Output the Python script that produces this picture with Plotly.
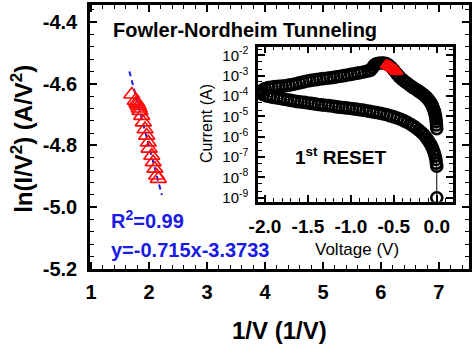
import math
import plotly.graph_objects as go

# ---- Fowler-Nordheim plot: 1/V (1/V) vs ln(I/V^2) ----
fn_inv_v = [1.70, 1.76, 1.787, 1.80, 1.815, 1.83, 1.843, 1.872, 1.90, 1.93,
            1.958, 1.986, 2.00, 2.045, 2.07, 2.10, 2.13, 2.16]
fn_ln = [-4.635, -4.655, -4.661, -4.666, -4.672, -4.680, -4.688, -4.704, -4.725, -4.747,
         -4.768, -4.790, -4.810, -4.833, -4.854, -4.875, -4.897, -4.908]

# linear fit printed on the chart
fit_slope = -0.715
fit_intercept = -3.3733
fit_r2 = 0.99
fit_x_span = [1.66, 2.22]

# ---- inset: 1st RESET I-V sweep (log10 of current in A) ----
sweep_out_v = [0.0, -0.003, -0.006, -0.010, -0.015, -0.021, -0.028, -0.036, -0.045, -0.055,
               -0.066, -0.078, -0.092, -0.107, -0.123, -0.14, -0.16, -0.18, -0.20, -0.22,
               -0.25, -0.28, -0.31, -0.34, -0.37, -0.40, -0.43, -0.45, -0.47, -0.50,
               -0.53, -0.56, -0.59, -0.62, -0.65, -0.68, -0.71, -0.73, -0.745, -0.77,
               -0.80, -0.84, -0.88, -0.92, -0.96, -1.00, -1.04, -1.08, -1.12, -1.16,
               -1.20, -1.24, -1.28, -1.32, -1.36, -1.40, -1.44, -1.48, -1.52, -1.56,
               -1.60, -1.64, -1.68, -1.72, -1.76, -1.80, -1.84, -1.88, -1.92, -1.96,
               -2.00, -2.03, -2.05]
sweep_out_log_i = [-5.60, -5.42, -5.26, -5.12, -4.98, -4.86, -4.75, -4.64, -4.54, -4.45,
                   -4.36, -4.28, -4.20, -4.12, -4.05, -3.98, -3.91, -3.85, -3.79, -3.73,
                   -3.65, -3.57, -3.48, -3.38, -3.29, -3.19, -3.08, -2.98, -2.88, -2.72,
                   -2.58, -2.47, -2.40, -2.37, -2.37, -2.38, -2.42, -2.48, -2.60, -2.72,
                   -2.76, -2.80, -2.84, -2.87, -2.90, -2.93, -2.96, -2.99, -3.02, -3.05,
                   -3.08, -3.10, -3.12, -3.14, -3.16, -3.19, -3.21, -3.24, -3.27, -3.31,
                   -3.35, -3.39, -3.43, -3.46, -3.49, -3.51, -3.52, -3.53, -3.55, -3.58,
                   -3.63, -3.70, -3.78]
sweep_back_v = [-2.05, -2.02, -1.98, -1.94, -1.90, -1.86, -1.82, -1.78, -1.74, -1.70,
                -1.66, -1.62, -1.58, -1.54, -1.50, -1.46, -1.42, -1.38, -1.34, -1.30,
                -1.26, -1.22, -1.18, -1.14, -1.10, -1.06, -1.02, -0.98, -0.94, -0.90,
                -0.86, -0.82, -0.78, -0.74, -0.70, -0.66, -0.62, -0.58, -0.54, -0.50,
                -0.46, -0.42, -0.38, -0.34, -0.30, -0.27, -0.24, -0.21, -0.18, -0.155,
                -0.13, -0.11, -0.09, -0.07, -0.055, -0.04, -0.028, -0.018, -0.010, -0.005,
                0.0, 0.0]
sweep_back_log_i = [-3.85, -3.93, -3.99, -4.03, -4.06, -4.09, -4.12, -4.15, -4.18, -4.21,
                    -4.24, -4.27, -4.29, -4.31, -4.34, -4.36, -4.38, -4.41, -4.43, -4.45,
                    -4.47, -4.49, -4.52, -4.54, -4.56, -4.58, -4.60, -4.62, -4.64, -4.67,
                    -4.69, -4.72, -4.75, -4.78, -4.81, -4.84, -4.88, -4.92, -4.97, -5.02,
                    -5.08, -5.14, -5.22, -5.30, -5.40, -5.48, -5.57, -5.67, -5.78, -5.88,
                    -6.00, -6.12, -6.25, -6.38, -6.52, -6.66, -6.80, -6.95, -7.12, -7.30,
                    -7.45, -9.00]

# tick labels
main_y_ticks = [-5.2, -5.0, -4.8, -4.6, -4.4]
main_y_labels = ["-5.2", "-5.0", "-4.8", "-4.6", "-4.4"]
main_x_ticks = [1, 2, 3, 4, 5, 6, 7]
inset_x_ticks = [-2.0, -1.5, -1.0, -0.5, 0.0]
inset_x_labels = ["-2.0", "-1.5", "-1.0", "-0.5", "0.0"]
inset_y_exponents = [-9, -8, -7, -6, -5, -4, -3, -2]

FONT = "Liberation Sans, Arial, sans-serif"
BLUE = "#1a1ae6"
RED = "#ff0a0a"

# plot-area geometry (pixels) used to place annotations
L, R, T, B = 90, 3, 2, 76
W, H = 474, 345
PW, PH = W - L - R, H - T - B


def px(x):
    return (x - L) / PW


def py(y):
    return (H - B - y) / PH


fig = go.Figure()

# fit line
fit_y = [fit_slope * x + fit_intercept for x in fit_x_span]
fig.add_trace(go.Scatter(x=fit_x_span, y=fit_y, mode="lines",
                         line=dict(color=BLUE, width=2, dash="5px,4px"),
                         xaxis="x", yaxis="y"))
# FN data
fig.add_trace(go.Scatter(x=fn_inv_v, y=fn_ln, mode="markers",
                         marker=dict(symbol="triangle-up-open", size=14, color=RED,
                                     line=dict(width=1.6, color=RED)),
                         xaxis="x", yaxis="y"))

# inset I-V sweep
sweep_v = sweep_out_v + sweep_back_v
sweep_i = [10 ** e for e in sweep_out_log_i + sweep_back_log_i]
fig.add_trace(go.Scatter(x=sweep_v, y=sweep_i, mode="lines+markers",
                         line=dict(color="black", width=1),
                         marker=dict(symbol="circle-open", size=11, color="black",
                                     line=dict(width=2.6, color="black")),
                         xaxis="x2", yaxis="y2"))
# FN points mapped back onto the I-V plane
fn_v = [-1.0 / x for x in fn_inv_v]
fn_i = [math.exp(y) * v * v for y, v in zip(fn_ln, fn_v)]
fig.add_trace(go.Scatter(x=fn_v, y=fn_i, mode="markers",
                         marker=dict(symbol="triangle-up-open", size=10, color=RED,
                                     line=dict(width=2, color=RED)),
                         xaxis="x2", yaxis="y2"))

axis_common = dict(showline=True, linecolor="black", linewidth=2.5, mirror="allticks",
                   ticks="inside", tickcolor="black", showgrid=False, zeroline=False)

fig.update_layout(
    width=W, height=H,
    margin=dict(l=L, r=R, t=T, b=B),
    paper_bgcolor="white", plot_bgcolor="white",
    showlegend=False,
    font=dict(family=FONT, color="black"),
    xaxis=dict(domain=[0, 1], range=[0.98, 7.52], anchor="y",
               tickvals=main_x_ticks, ticklen=7, tickwidth=1.5,
               minor=dict(dtick=0.2, tick0=1, ticks="inside", ticklen=4, tickwidth=1.2,
                          tickcolor="black"),
               tickfont=dict(size=20, weight="bold"), ticklabelstandoff=3,
               **axis_common),
    yaxis=dict(domain=[0, 1], range=[-5.2, -4.345], anchor="x",
               tickvals=main_y_ticks, ticktext=main_y_labels, ticklen=7, tickwidth=1.5,
               minor=dict(dtick=0.04, tick0=-5.2, ticks="inside", ticklen=4, tickwidth=1.2,
                          tickcolor="black"),
               tickfont=dict(size=20, weight="bold"), ticklabelstandoff=6,
               **axis_common),
    xaxis2=dict(domain=[px(259), px(455)], range=[-2.08, 0.19], anchor="y2",
                tickvals=inset_x_ticks, ticktext=inset_x_labels, ticklen=7, tickwidth=1.5,
                minor=dict(dtick=0.1, tick0=0, ticks="inside", ticklen=4, tickwidth=1.2,
                           tickcolor="black"),
                tickfont=dict(size=19, weight="bold"), ticklabelstandoff=6,
                **axis_common),
    yaxis2=dict(domain=[py(201), py(44)], type="log", range=[-9.2, -1.56], anchor="x2",
                tickvals=[10 ** e for e in inset_y_exponents],
                ticktext=["10<sup>%d</sup>" % e for e in inset_y_exponents],
                ticklen=7, tickwidth=1.5,
                minor=dict(ticks="inside", ticklen=4, tickwidth=1.2, tickcolor="black"),
                tickfont=dict(size=15), ticklabelstandoff=4,
                **axis_common),
)

ann = [
    dict(text="ln(I/V<sup>2</sup>) (A/V<sup>2</sup>)", x=px(22), y=py(137), textangle=-90,
         font=dict(size=24, weight="bold")),
    dict(text="1/V (1/V)", x=px(281), y=py(331), font=dict(size=24, weight="bold")),
    dict(text="Fowler-Nordheim Tunneling", x=px(111), y=py(27), xanchor="left",
         font=dict(size=20, weight="bold")),
    dict(text="R<sup>2</sup>=%.2f" % fit_r2, x=px(109), y=py(219), xanchor="left",
         font=dict(size=20, weight="bold", color=BLUE)),
    dict(text="y=%.3fx%.4f" % (fit_slope, fit_intercept), x=px(109), y=py(250),
         xanchor="left", font=dict(size=20, weight="bold", color=BLUE)),
    dict(text="1<sup>st</sup> RESET", x=px(294), y=py(155), xanchor="left",
         font=dict(size=19, weight="bold")),
    dict(text="Current (A)", x=px(207), y=py(122), textangle=-90, font=dict(size=16)),
    dict(text="Voltage (V)", x=px(358), y=py(249), font=dict(size=17)),
]
for a in ann:
    a.update(xref="paper", yref="paper", showarrow=False)
    a.setdefault("xanchor", "center")
    a.setdefault("yanchor", "middle")
fig.update_layout(annotations=ann)

fig.write_html("out.html")
